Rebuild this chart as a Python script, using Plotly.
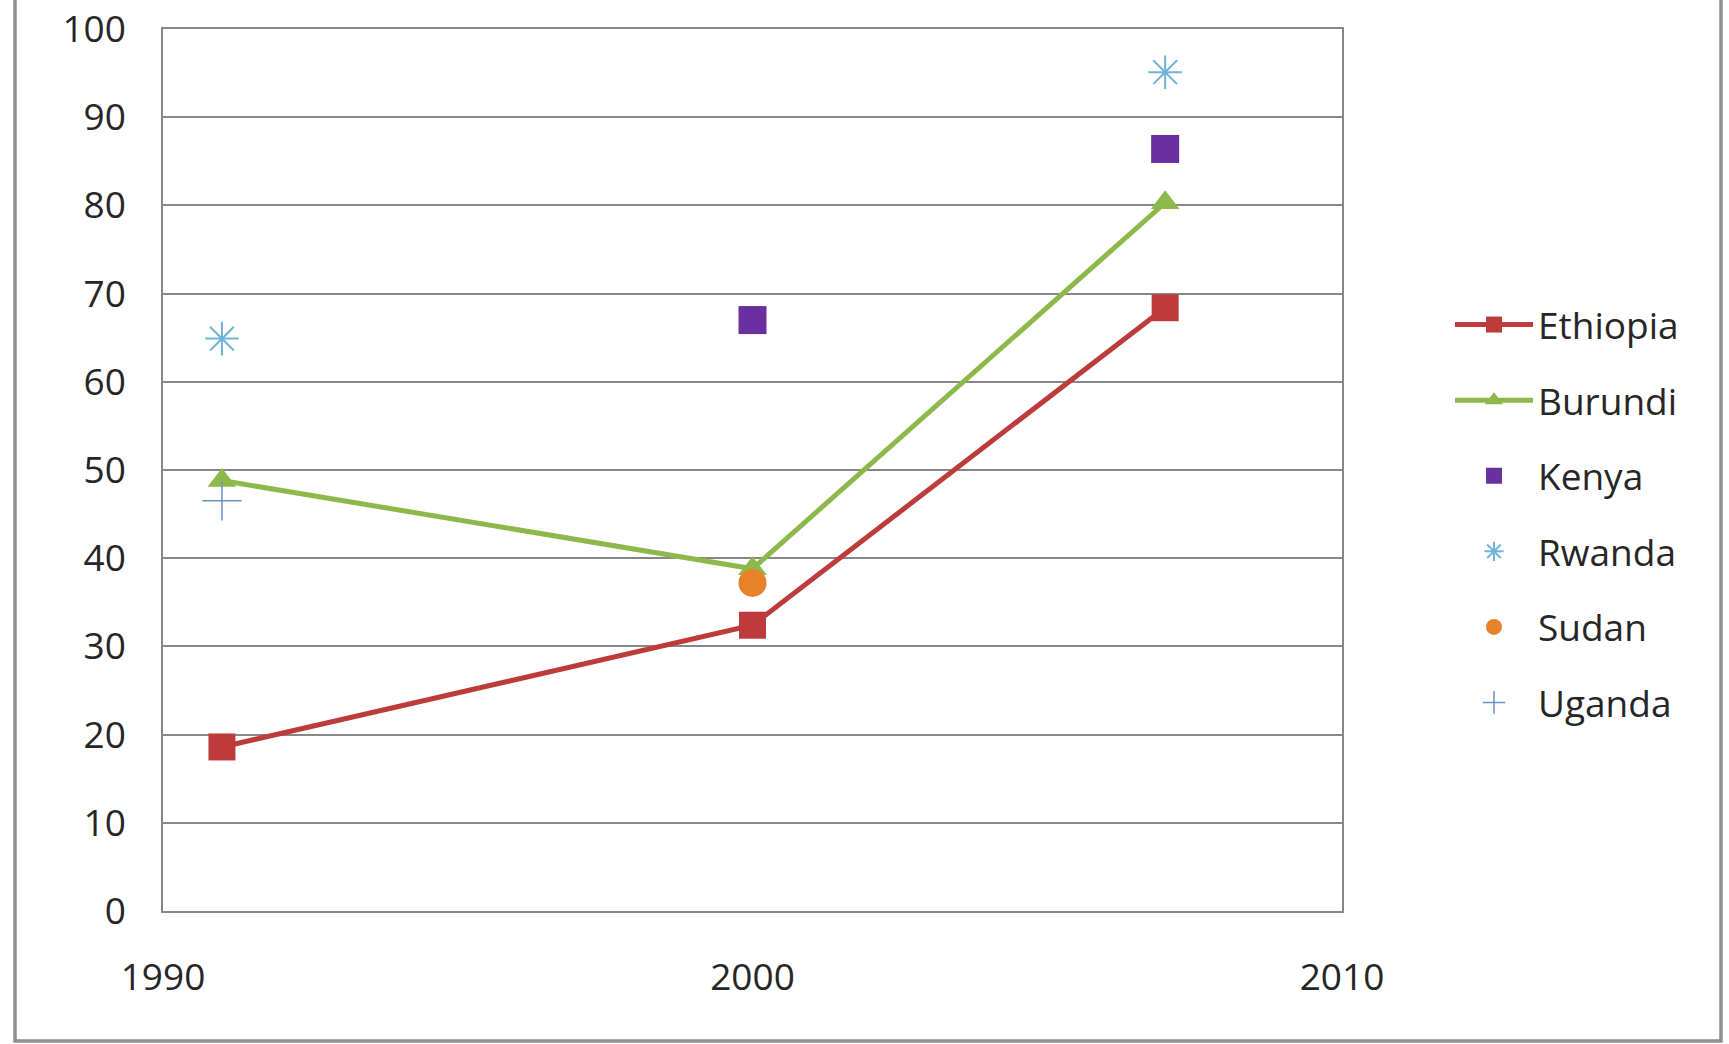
import plotly.graph_objects as go

# ---- data ----
years_eth = [1991, 2000, 2007]
ethiopia = [18.6, 32.4, 68.4]
years_bur = [1991, 2000, 2007]
burundi = [48.8, 38.8, 80.3]
years_ken = [2000, 2007]
kenya = [67.0, 86.4]
years_rwa = [1991, 2007]
rwanda = [64.9, 95.1]
years_sud = [2000]
sudan = [37.2]
years_uga = [1991]
uganda = [46.5]

x_ticks = [1990, 2000, 2010]
y_ticks = list(range(0, 101, 10))

FONT = "Open Sans"
FS = 37
TXT = "#262626"
GRID = "#878787"

fig = go.Figure()
fig.add_trace(go.Scatter(x=years_eth, y=ethiopia, name="Ethiopia", mode="lines+markers",
                         line=dict(color="#BE3B3B", width=5),
                         marker=dict(symbol="square", size=27, color="#BE3B3B"),
                         legendgroup="a"))
fig.add_trace(go.Scatter(x=years_bur, y=burundi, name="Burundi", mode="lines+markers",
                         line=dict(color="#8DB84A", width=5),
                         marker=dict(symbol="triangle-up", size=25, color="#8DB84A"),
                         legendgroup="b"))
fig.add_trace(go.Scatter(x=years_ken, y=kenya, name="Kenya", mode="markers",
                         marker=dict(symbol="square", size=28, color="#6A2FA0"),
                         legendgroup="c"))
fig.add_trace(go.Scatter(x=years_rwa, y=rwanda, name="Rwanda", mode="markers",
                         marker=dict(symbol="asterisk-open", size=28, color="#6FB4D8",
                                     line=dict(color="#6FB4D8", width=2)),
                         legendgroup="d"))
fig.add_trace(go.Scatter(x=years_sud, y=sudan, name="Sudan", mode="markers",
                         marker=dict(symbol="circle", size=28, color="#E8822A"),
                         legendgroup="e"))
fig.add_trace(go.Scatter(x=years_uga, y=uganda, name="Uganda", mode="markers",
                         marker=dict(symbol="cross-thin-open", size=28, color="#6A8FC4",
                                     line=dict(color="#6A8FC4", width=1.5)),
                         legendgroup="f"))

L, R, T, B = 163, 1342, 29, 911
W, H = 1729, 1044
pw, ph = R - L, B - T

def px(x):
    return (x - L) / pw

def py(y):
    return (B - y) / ph

fig.update_layout(
    width=W, height=H,
    margin=dict(l=L, r=W - R, t=T, b=H - B, pad=0, autoexpand=False),
    paper_bgcolor="white", plot_bgcolor="white",
    font=dict(family=FONT, size=FS, color=TXT),
    showlegend=True,
    legend=dict(x=px(1450), y=py(294), xanchor="left", yanchor="top",
                font=dict(family=FONT, size=FS, color=TXT),
                itemwidth=78, tracegroupgap=24.5, traceorder="grouped",
                bgcolor="rgba(0,0,0,0)", itemsizing="trace"),
    xaxis=dict(range=[1990, 2010], tickvals=x_ticks, showgrid=False, zeroline=False,
               showline=True, linecolor=GRID, linewidth=1.5, mirror=True,
               ticks="", ticklabelstandoff=33, automargin=False,
               tickfont=dict(family=FONT, size=FS, color=TXT)),
    yaxis=dict(range=[0, 100], tickvals=y_ticks, showgrid=True, gridcolor=GRID, gridwidth=1.5,
               zeroline=False, showline=True, linecolor=GRID, linewidth=1.5, mirror=True,
               ticks="", ticklabelstandoff=28, automargin=False,
               tickfont=dict(family=FONT, size=FS, color=TXT)),
    shapes=[dict(type="rect", xref="paper", yref="paper",
                 x0=px(15), x1=px(1721), y0=py(1041), y1=py(-10),
                 line=dict(color="#8f8f8f", width=3.5), fillcolor="rgba(0,0,0,0)",
                 layer="below")],
)

fig.write_html("out.html")
